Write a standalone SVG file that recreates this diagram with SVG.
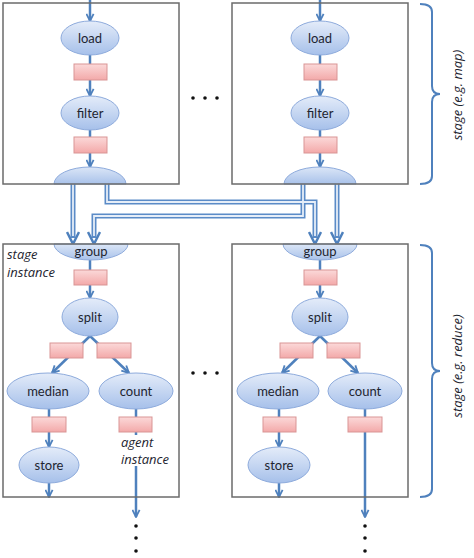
<svg xmlns="http://www.w3.org/2000/svg" width="474" height="558" viewBox="0 0 474 558">
<defs>
<linearGradient id="gBlue" x1="0" y1="0" x2="0" y2="1">
<stop offset="0" stop-color="#e4ecf9"/>
<stop offset="1" stop-color="#a6c0ea"/>
</linearGradient>
<linearGradient id="gDome" x1="0" y1="0" x2="0" y2="1">
<stop offset="0" stop-color="#dbe6f7"/>
<stop offset="1" stop-color="#a9c2ea"/>
</linearGradient>
<linearGradient id="gPink" x1="0" y1="0" x2="0" y2="1">
<stop offset="0" stop-color="#fbd9d9"/>
<stop offset="1" stop-color="#f3a9a9"/>
</linearGradient>
<marker id="arr" viewBox="0 0 10 10" refX="9" refY="5" markerWidth="9" markerHeight="9" markerUnits="userSpaceOnUse" orient="auto">
<path d="M1,1 L9,5 L1,9" fill="none" stroke="#4f81bd" stroke-width="2"/>
</marker>
<marker id="arrBig" viewBox="0 0 14 14" refX="13" refY="7" markerWidth="14" markerHeight="14" markerUnits="userSpaceOnUse" orient="auto">
<path d="M1,1 L13,7 L1,13" fill="none" stroke="#4f81bd" stroke-width="2.5"/>
</marker>
</defs>
<style>
.box{fill:none;stroke:#6b6b6b;stroke-width:1.5}
.node{fill:url(#gBlue);stroke:#8eabdc;stroke-width:1}
.dome{fill:url(#gDome);stroke:#8eabdc;stroke-width:1}
.q{fill:url(#gPink);stroke:#d99595;stroke-width:1}
.lbl{font-family:Lato,"Liberation Sans",sans-serif;font-size:13px;fill:#1e2530;text-anchor:middle}
.it{font-family:"Open Sans","Liberation Sans",sans-serif;font-style:italic;font-size:13px;fill:#1e2530}
.e{fill:none;stroke:#4f81bd;stroke-width:2.5;marker-end:url(#arr)}
.ln{fill:none;stroke:#4f81bd;stroke-width:2.5}
.pipeO{fill:none;stroke:#5b8bc7;stroke-width:5}
.pipeI{fill:none;stroke:#e6eef8;stroke-width:1.8}
.brace{fill:none;stroke:#4f81bd;stroke-width:2}
.dot{fill:#111}
</style>
<rect width="474" height="558" fill="#ffffff"/>

<g id="connectors">
<!-- pipes between stages -->
<path class="pipeO" d="M73,184 V238"/>
<path class="pipeO" d="M107,184 V202 H315 V238"/>
<path class="pipeO" d="M303,184 V216 H94 V238"/>
<path class="pipeO" d="M337,184 V238"/>
<path class="pipeI" d="M73,184 V236"/>
<path class="pipeI" d="M107,184 V202 H315 V236"/>
<path class="pipeI" d="M303,184 V216 H94 V236"/>
<path class="pipeI" d="M337,184 V236"/>
<path d="M73,230 V244" fill="none" stroke="none" marker-end="url(#arrBig)"/>
<path d="M94,230 V244" fill="none" stroke="none" marker-end="url(#arrBig)"/>
<path d="M315,230 V244" fill="none" stroke="none" marker-end="url(#arrBig)"/>
<path d="M337,230 V244" fill="none" stroke="none" marker-end="url(#arrBig)"/>
<!-- top left -->
<path class="e" d="M90,0 V21"/>
<path class="e" d="M90,55 V96"/>
<path class="e" d="M90,130 V167"/>
<!-- top right -->
<path class="e" d="M320,0 V21"/>
<path class="e" d="M320,55 V96"/>
<path class="e" d="M320,130 V167"/>
<!-- bottom left -->
<path class="e" d="M90,260 V298"/>
<path class="e" d="M90,336 L52,373"/>
<path class="e" d="M90,336 L129,373"/>
<path class="e" d="M49,409 V447"/>
<path class="e" d="M49,483 V497"/>
<path class="e" d="M136,409 V517"/>
<!-- bottom right -->
<path class="e" d="M320,260 V298"/>
<path class="e" d="M320,336 L282,373"/>
<path class="e" d="M320,336 L358,373"/>
<path class="e" d="M279,409 V447"/>
<path class="e" d="M279,483 V497"/>
<path class="e" d="M365,409 V517"/>
</g>

<!-- top left stage instance -->
<g id="tl-load"><ellipse class="node" cx="90" cy="38" rx="29" ry="17"/><text class="lbl" x="90" y="42.5">load</text></g>
<g id="tl-q1"><rect class="q" x="74" y="64" width="33" height="16"/></g>
<g id="tl-filter"><ellipse class="node" cx="90" cy="113" rx="29" ry="17"/><text class="lbl" x="90" y="117.5">filter</text></g>
<g id="tl-q2"><rect class="q" x="74" y="137" width="33" height="16"/></g>
<g id="tl-out"><path class="dome" d="M54,184 A36,17 0 0 1 126,184 Z"/></g>

<!-- top right stage instance -->
<g id="tr-load"><ellipse class="node" cx="320" cy="38" rx="29" ry="17"/><text class="lbl" x="320" y="42.5">load</text></g>
<g id="tr-q1"><rect class="q" x="304" y="64" width="33" height="16"/></g>
<g id="tr-filter"><ellipse class="node" cx="320" cy="113" rx="29" ry="17"/><text class="lbl" x="320" y="117.5">filter</text></g>
<g id="tr-q2"><rect class="q" x="304" y="137" width="33" height="16"/></g>
<g id="tr-out"><path class="dome" d="M284,184 A36,17 0 0 1 356,184 Z"/></g>

<!-- bottom left stage instance -->
<g id="bl-group"><path class="dome" d="M54,244 A37,16 0 0 0 128,244 Z"/><text class="lbl" x="91" y="256">group</text></g>
<g id="bl-q1"><rect class="q" x="74" y="270" width="33" height="15"/></g>
<g id="bl-split"><ellipse class="node" cx="90" cy="317" rx="28" ry="19"/><text class="lbl" x="90" y="321.5">split</text></g>
<g id="bl-q2"><rect class="q" x="50" y="343" width="33" height="15"/></g>
<g id="bl-q3"><rect class="q" x="97" y="343" width="34" height="15"/></g>
<g id="bl-median"><ellipse class="node" cx="48" cy="391" rx="41" ry="18"/><text class="lbl" x="48" y="395.5">median</text></g>
<g id="bl-count"><ellipse class="node" cx="136" cy="391" rx="37" ry="18"/><text class="lbl" x="136" y="395.5">count</text></g>
<g id="bl-q4"><rect class="q" x="32" y="417" width="34" height="15"/></g>
<g id="bl-q5"><rect class="q" x="119" y="417" width="33" height="15"/></g>
<g id="bl-store"><ellipse class="node" cx="49" cy="465" rx="30" ry="18"/><text class="lbl" x="49" y="469.5">store</text></g>

<!-- bottom right stage instance -->
<g id="br-group"><path class="dome" d="M283,244 A37,16 0 0 0 357,244 Z"/><text class="lbl" x="320" y="256">group</text></g>
<g id="br-q1"><rect class="q" x="304" y="270" width="33" height="15"/></g>
<g id="br-split"><ellipse class="node" cx="320" cy="317" rx="28" ry="19"/><text class="lbl" x="320" y="321.5">split</text></g>
<g id="br-q2"><rect class="q" x="280" y="343" width="33" height="15"/></g>
<g id="br-q3"><rect class="q" x="327" y="343" width="33" height="15"/></g>
<g id="br-median"><ellipse class="node" cx="278" cy="391" rx="41" ry="18"/><text class="lbl" x="278" y="395.5">median</text></g>
<g id="br-count"><ellipse class="node" cx="365" cy="391" rx="37" ry="18"/><text class="lbl" x="365" y="395.5">count</text></g>
<g id="br-q4"><rect class="q" x="263" y="417" width="33" height="15"/></g>
<g id="br-q5"><rect class="q" x="348" y="417" width="34" height="15"/></g>
<g id="br-store"><ellipse class="node" cx="279" cy="465" rx="31" ry="18"/><text class="lbl" x="279" y="469.5">store</text></g>

<!-- stage boxes -->
<g id="box-tl"><rect class="box" x="3" y="3" width="176" height="181"/></g>
<g id="box-tr"><rect class="box" x="232" y="3" width="176" height="181"/></g>
<g id="box-bl"><rect class="box" x="3" y="244" width="176" height="253"/></g>
<g id="box-br"><rect class="box" x="232" y="244" width="176" height="253"/></g>

<!-- annotations -->
<g id="stage-instance-label"><text class="it" x="7" y="259">stage</text><text class="it" x="7" y="277">instance</text></g>
<g id="agent-instance-label">
<rect x="118" y="435" width="56" height="31" fill="#ffffff"/>
<text class="it" x="121" y="447">agent</text><text class="it" x="121" y="464">instance</text>
</g>

<g id="dots">
<circle class="dot" cx="193" cy="98" r="1.8"/><circle class="dot" cx="205" cy="98" r="1.8"/><circle class="dot" cx="217" cy="98" r="1.8"/>
<circle class="dot" cx="193" cy="373" r="1.8"/><circle class="dot" cx="205" cy="373" r="1.8"/><circle class="dot" cx="217" cy="373" r="1.8"/>
<circle class="dot" cx="136" cy="526" r="1.8"/><circle class="dot" cx="136" cy="538" r="1.8"/><circle class="dot" cx="136" cy="551" r="1.8"/>
<circle class="dot" cx="365" cy="526" r="1.8"/><circle class="dot" cx="365" cy="538" r="1.8"/><circle class="dot" cx="365" cy="551" r="1.8"/>
</g>

<g id="brace-map">
<path class="brace" d="M420,4 Q432,4 432,12 V86 Q432,94 440,94 Q432,94 432,102 V176 Q432,184 420,184"/>
<text class="it" transform="translate(462,95) rotate(-90)" text-anchor="middle">stage (e.g. map)</text>
</g>
<g id="brace-reduce">
<path class="brace" d="M420,245 Q432,245 432,253 V363 Q432,371 440,371 Q432,371 432,379 V489 Q432,497 420,497"/>
<text class="it" transform="translate(462,366) rotate(-90)" text-anchor="middle">stage (e.g. reduce)</text>
</g>
</svg>
